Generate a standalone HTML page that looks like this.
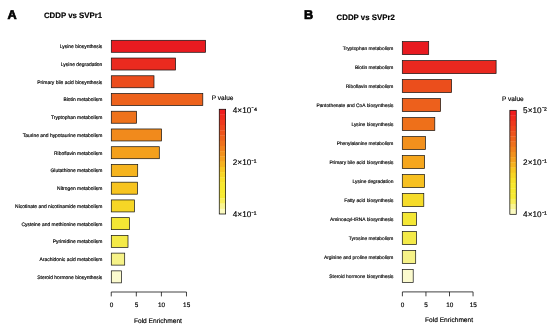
<!DOCTYPE html><html><head><meta charset="utf-8"><title>Fold Enrichment</title><style>html,body{margin:0;padding:0;background:#fff}svg{display:block}text{text-rendering:geometricPrecision;font-family:"Liberation Sans",sans-serif;fill:#000;stroke:#000;stroke-width:0.16px}.l{text-anchor:end}.t{font-size:7.85px;font-weight:bold}.k{font-size:6.4px;text-anchor:middle}.x{font-size:6.6px;text-anchor:middle}.p{font-size:6.5px}.v{font-size:8.2px}.s{font-size:3.6px}.pl{font-size:12.7px;font-weight:bold;fill:#000;stroke:#000;stroke-width:0.7px}</style></head><body>
<svg width="550" height="330" viewBox="0 0 550 330">
<rect width="550" height="330" fill="#fff"/>
<text class="pl" transform="translate(7.6,18.7) scale(1.0,1)">A</text>
<text class="t" x="43.9" y="17.9">CDDP vs SVPr1</text>
<text class="l" font-size="4.95" x="102.35" y="48.20">Lysine biosynthesis</text>
<rect x="111.3" y="40.30" width="94.30" height="12" fill="#e91b20" stroke="#111" stroke-width="0.7"/>
<text class="l" font-size="4.95" x="102.35" y="65.94">Lysine degradation</text>
<rect x="111.3" y="58.03" width="64.30" height="12" fill="#ea2a1f" stroke="#111" stroke-width="0.7"/>
<text class="l" font-size="4.95" x="102.35" y="83.67">Primary bile acid biosynthesis</text>
<rect x="111.3" y="75.77" width="42.70" height="12" fill="#eb4c1c" stroke="#111" stroke-width="0.7"/>
<text class="l" font-size="4.95" x="102.35" y="101.41">Biotin metabolism</text>
<rect x="111.3" y="93.50" width="91.50" height="12" fill="#ed621c" stroke="#111" stroke-width="0.7"/>
<text class="l" font-size="4.95" x="102.35" y="119.14">Tryptophan metabolism</text>
<rect x="111.3" y="111.24" width="25.30" height="12" fill="#ee721b" stroke="#111" stroke-width="0.7"/>
<text class="l" font-size="4.95" x="102.35" y="136.88">Taurine and hypotaurine metabolism</text>
<rect x="111.3" y="128.97" width="50.30" height="12" fill="#f18a1c" stroke="#111" stroke-width="0.7"/>
<text class="l" font-size="4.95" x="102.35" y="154.61">Riboflavin metabolism</text>
<rect x="111.3" y="146.71" width="48.00" height="12" fill="#f4a01c" stroke="#111" stroke-width="0.7"/>
<text class="l" font-size="4.95" x="102.35" y="172.34">Glutathione metabolism</text>
<rect x="111.3" y="164.44" width="26.40" height="12" fill="#f6b41e" stroke="#111" stroke-width="0.7"/>
<text class="l" font-size="4.95" x="102.35" y="190.08">Nitrogen metabolism</text>
<rect x="111.3" y="182.18" width="26.10" height="12" fill="#f7c420" stroke="#111" stroke-width="0.7"/>
<text class="l" font-size="4.95" x="102.35" y="207.82">Nicotinate and nicotinamide metabolism</text>
<rect x="111.3" y="199.92" width="23.10" height="12" fill="#f6d626" stroke="#111" stroke-width="0.7"/>
<text class="l" font-size="4.95" x="102.35" y="225.55">Cysteine and methionine metabolism</text>
<rect x="111.3" y="217.65" width="18.20" height="12" fill="#f4e634" stroke="#111" stroke-width="0.7"/>
<text class="l" font-size="4.95" x="102.35" y="243.28">Pyrimidine metabolism</text>
<rect x="111.3" y="235.38" width="16.70" height="12" fill="#f4ea48" stroke="#111" stroke-width="0.7"/>
<text class="l" font-size="4.95" x="102.35" y="261.02">Arachidonic acid metabolism</text>
<rect x="111.3" y="253.12" width="13.40" height="12" fill="#f6f287" stroke="#111" stroke-width="0.7"/>
<text class="l" font-size="4.95" x="102.35" y="278.75">Steroid hormone biosynthesis</text>
<rect x="111.3" y="270.86" width="10.30" height="12" fill="#fbface" stroke="#111" stroke-width="0.7"/>
<path d="M111.25 292 H186.475M111.25 292v4.4M136.325 292v4.4M161.4 292v4.4M186.475 292v4.4" stroke="#111" stroke-width="0.8" fill="none"/>
<text class="k" x="111.45" y="306.6">0</text>
<text class="k" x="136.525" y="306.6">5</text>
<text class="k" x="161.6" y="306.6">10</text>
<text class="k" x="186.675" y="306.6">15</text>
<text class="x" x="157.95" y="323.1">Fold Enrichment</text>
<rect x="219.25" y="109.25" width="6.4" height="5.54" fill="#f01d1e"/>
<rect x="219.25" y="114.49" width="6.4" height="5.54" fill="#f02b1e"/>
<rect x="219.25" y="119.72" width="6.4" height="5.54" fill="#ef391d"/>
<rect x="219.25" y="124.96" width="6.4" height="5.54" fill="#ef461d"/>
<rect x="219.25" y="130.20" width="6.4" height="5.54" fill="#ee541c"/>
<rect x="219.25" y="135.44" width="6.4" height="5.54" fill="#ee621c"/>
<rect x="219.25" y="140.68" width="6.4" height="5.54" fill="#ef711c"/>
<rect x="219.25" y="145.91" width="6.4" height="5.54" fill="#f1811c"/>
<rect x="219.25" y="151.15" width="6.4" height="5.54" fill="#f2911c"/>
<rect x="219.25" y="156.39" width="6.4" height="5.54" fill="#f4a01d"/>
<rect x="219.25" y="161.62" width="6.4" height="5.54" fill="#f6b21e"/>
<rect x="219.25" y="166.86" width="6.4" height="5.54" fill="#f7c621"/>
<rect x="219.25" y="172.10" width="6.4" height="5.54" fill="#f8d524"/>
<rect x="219.25" y="177.34" width="6.4" height="5.54" fill="#f8e02a"/>
<rect x="219.25" y="182.57" width="6.4" height="5.54" fill="#f8e82e"/>
<rect x="219.25" y="187.81" width="6.4" height="5.54" fill="#f7e930"/>
<rect x="219.25" y="193.05" width="6.4" height="5.54" fill="#f7ea32"/>
<rect x="219.25" y="198.29" width="6.4" height="5.54" fill="#f8ee5a"/>
<rect x="219.25" y="203.52" width="6.4" height="5.54" fill="#f9f490"/>
<rect x="219.25" y="208.76" width="6.4" height="5.24" fill="#fbfac0"/>
<rect x="219.25" y="109.25" width="6.4" height="104.75" fill="none" stroke="#000" stroke-width="0.7"/>
<text class="p" x="211.8" y="99.5">P value</text>
<text class="v" x="232.8" y="112.65">4×10<tspan class="s" dx="0.35" dy="-3.4">−</tspan><tspan dy="3.4">⁴</tspan></text>
<text class="v" x="232.8" y="164.9">2×10<tspan class="s" dx="0.35" dy="-3.4">−</tspan><tspan dy="3.4">¹</tspan></text>
<text class="v" x="232.8" y="217.3">4×10<tspan class="s" dx="0.35" dy="-3.4">−</tspan><tspan dy="3.4">¹</tspan></text>
<text class="pl" transform="translate(303.9,18.7) scale(1.0,1)">B</text>
<text class="t" x="336.6" y="19.8">CDDP vs SVPr2</text>
<text class="l" font-size="4.87" x="393.4" y="50.15">Tryptophan metabolism</text>
<rect x="402.3" y="41.60" width="26.40" height="13" fill="#e81a20" stroke="#111" stroke-width="0.7"/>
<text class="l" font-size="4.87" x="393.4" y="69.14">Biotin metabolism</text>
<rect x="402.3" y="60.59" width="93.80" height="13" fill="#e9281f" stroke="#111" stroke-width="0.7"/>
<text class="l" font-size="4.87" x="393.4" y="88.13">Riboflavin metabolism</text>
<rect x="402.3" y="79.58" width="49.30" height="13" fill="#eb4e1c" stroke="#111" stroke-width="0.7"/>
<text class="l" font-size="4.87" x="393.4" y="107.12">Pantothenate and CoA biosynthesis</text>
<rect x="402.3" y="98.57" width="38.30" height="13" fill="#ed601c" stroke="#111" stroke-width="0.7"/>
<text class="l" font-size="4.87" x="393.4" y="126.11">Lysine biosynthesis</text>
<rect x="402.3" y="117.56" width="32.50" height="13" fill="#ee701a" stroke="#111" stroke-width="0.7"/>
<text class="l" font-size="4.87" x="393.4" y="145.10">Phenylalanine metabolism</text>
<rect x="402.3" y="136.55" width="23.10" height="13" fill="#f2901c" stroke="#111" stroke-width="0.7"/>
<text class="l" font-size="4.87" x="393.4" y="164.09">Primary bile acid biosynthesis</text>
<rect x="402.3" y="155.54" width="22.30" height="13" fill="#f5a61d" stroke="#111" stroke-width="0.7"/>
<text class="l" font-size="4.87" x="393.4" y="183.08">Lysine degradation</text>
<rect x="402.3" y="174.53" width="22.20" height="13" fill="#f7c020" stroke="#111" stroke-width="0.7"/>
<text class="l" font-size="4.87" x="393.4" y="202.07">Fatty acid biosynthesis</text>
<rect x="402.3" y="193.52" width="21.50" height="13" fill="#f6dc2a" stroke="#111" stroke-width="0.7"/>
<text class="l" font-size="4.87" x="393.4" y="221.06">Aminoacyl-tRNA biosynthesis</text>
<rect x="402.3" y="212.51" width="14.20" height="13" fill="#f4e734" stroke="#111" stroke-width="0.7"/>
<text class="l" font-size="4.87" x="393.4" y="240.05">Tyrosine metabolism</text>
<rect x="402.3" y="231.50" width="14.20" height="13" fill="#f4ea48" stroke="#111" stroke-width="0.7"/>
<text class="l" font-size="4.87" x="393.4" y="259.04">Arginine and proline metabolism</text>
<rect x="402.3" y="250.49" width="13.40" height="13" fill="#f6f287" stroke="#111" stroke-width="0.7"/>
<text class="l" font-size="4.87" x="393.4" y="278.03">Steroid hormone biosynthesis</text>
<rect x="402.3" y="269.48" width="10.90" height="13" fill="#fbface" stroke="#111" stroke-width="0.7"/>
<path d="M402.4 291.9 H473.05M402.4 291.9v4.4M425.95 291.9v4.4M449.5 291.9v4.4M473.05 291.9v4.4" stroke="#111" stroke-width="0.8" fill="none"/>
<text class="k" x="402.6" y="306.5">0</text>
<text class="k" x="426.15" y="306.5">5</text>
<text class="k" x="449.7" y="306.5">10</text>
<text class="k" x="473.25" y="306.5">15</text>
<text class="x" x="449.05" y="322.3">Fold Enrichment</text>
<rect x="509.85" y="110.30" width="6.4" height="5.50" fill="#f01d1e"/>
<rect x="509.85" y="115.50" width="6.4" height="5.50" fill="#f02b1e"/>
<rect x="509.85" y="120.70" width="6.4" height="5.50" fill="#ef391d"/>
<rect x="509.85" y="125.90" width="6.4" height="5.50" fill="#ef461d"/>
<rect x="509.85" y="131.10" width="6.4" height="5.50" fill="#ee541c"/>
<rect x="509.85" y="136.30" width="6.4" height="5.50" fill="#ee621c"/>
<rect x="509.85" y="141.50" width="6.4" height="5.50" fill="#ef711c"/>
<rect x="509.85" y="146.70" width="6.4" height="5.50" fill="#f1811c"/>
<rect x="509.85" y="151.90" width="6.4" height="5.50" fill="#f2911c"/>
<rect x="509.85" y="157.10" width="6.4" height="5.50" fill="#f4a01d"/>
<rect x="509.85" y="162.30" width="6.4" height="5.50" fill="#f6b21e"/>
<rect x="509.85" y="167.50" width="6.4" height="5.50" fill="#f7c621"/>
<rect x="509.85" y="172.70" width="6.4" height="5.50" fill="#f8d524"/>
<rect x="509.85" y="177.90" width="6.4" height="5.50" fill="#f8e02a"/>
<rect x="509.85" y="183.10" width="6.4" height="5.50" fill="#f8e82e"/>
<rect x="509.85" y="188.30" width="6.4" height="5.50" fill="#f7e930"/>
<rect x="509.85" y="193.50" width="6.4" height="5.50" fill="#f7ea32"/>
<rect x="509.85" y="198.70" width="6.4" height="5.50" fill="#f8ee5a"/>
<rect x="509.85" y="203.90" width="6.4" height="5.50" fill="#f9f490"/>
<rect x="509.85" y="209.10" width="6.4" height="5.20" fill="#fbfac0"/>
<rect x="509.85" y="110.3" width="6.4" height="104" fill="none" stroke="#000" stroke-width="0.7"/>
<text class="p" x="502.1" y="100.7">P value</text>
<text class="v" x="523.1" y="112.65">5×10<tspan class="s" dx="0.35" dy="-3.4">−</tspan><tspan dy="3.4">²</tspan></text>
<text class="v" x="523.1" y="164.9">2×10<tspan class="s" dx="0.35" dy="-3.4">−</tspan><tspan dy="3.4">¹</tspan></text>
<text class="v" x="523.1" y="217.3">4×10<tspan class="s" dx="0.35" dy="-3.4">−</tspan><tspan dy="3.4">¹</tspan></text>
</svg></body></html>
